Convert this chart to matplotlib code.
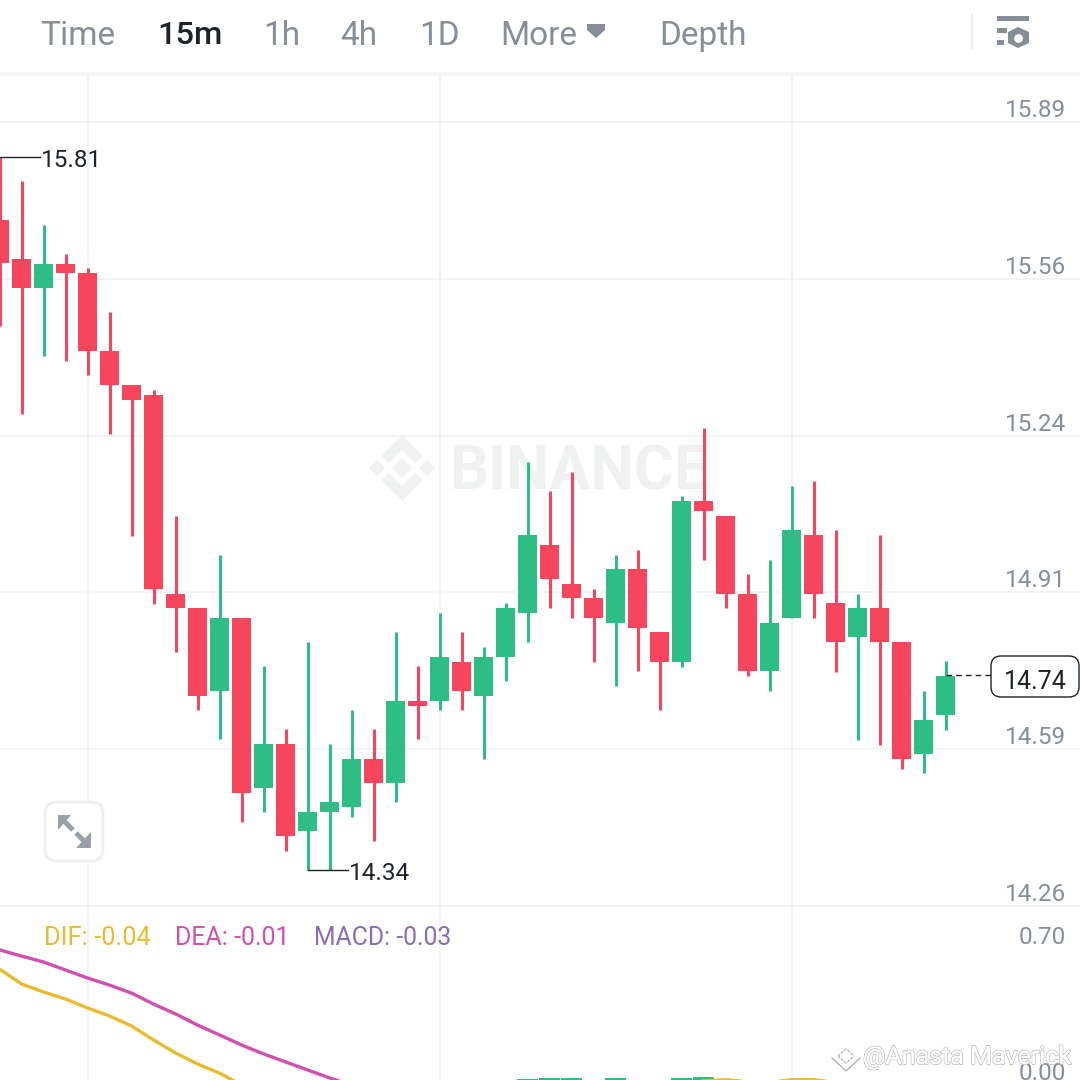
import matplotlib
matplotlib.use('Agg')
import matplotlib.pyplot as plt
import matplotlib.patheffects as pe
from matplotlib.patches import FancyBboxPatch, Polygon, Rectangle

plt.rcParams['font.family'] = ['Roboto', 'DejaVu Sans']

# Candles, one entry per 15m bar
opens = [15.686, 15.605, 15.545, 15.595, 15.576, 15.414, 15.343, 15.322, 14.909, 14.880, 14.707,
         14.859, 14.505, 14.597, 14.416, 14.456, 14.466, 14.566, 14.516, 14.686, 14.686, 14.767,
         14.697, 14.778, 14.869, 15.011, 14.930, 14.900, 14.848, 14.961, 14.830, 14.767, 15.102,
         15.071, 14.909, 14.749, 14.859, 15.031, 14.890, 14.819, 14.880, 14.809, 14.576, 14.657]
closes = [15.597, 15.545, 15.595, 15.576, 15.414, 15.343, 15.312, 14.919, 14.880, 14.697, 14.859,
          14.495, 14.597, 14.406, 14.456, 14.476, 14.566, 14.516, 14.686, 14.676, 14.778, 14.707,
          14.778, 14.880, 15.031, 14.940, 14.900, 14.859, 14.961, 14.838, 14.767, 15.102, 15.081,
          14.909, 14.749, 14.848, 15.042, 14.909, 14.809, 14.880, 14.809, 14.566, 14.647, 14.738]
highs = [15.817, 15.767, 15.676, 15.616, 15.586, 15.495, 15.343, 15.333, 15.071, 14.880, 14.990,
         14.859, 14.759, 14.628, 14.809, 14.597, 14.668, 14.628, 14.830, 14.759, 14.869, 14.830,
         14.799, 14.890, 15.183, 15.123, 15.162, 14.919, 14.990, 15.000, 14.830, 15.112, 15.254,
         15.071, 14.950, 14.979, 15.133, 15.144, 15.042, 14.909, 15.031, 14.809, 14.707, 14.769]
lows = [15.466, 15.283, 15.404, 15.393, 15.364, 15.241, 15.029, 14.888, 14.788, 14.668, 14.607,
        14.435, 14.456, 14.374, 14.335, 14.335, 14.445, 14.395, 14.476, 14.607, 14.668, 14.668,
        14.566, 14.728, 14.809, 14.880, 14.859, 14.767, 14.717, 14.749, 14.668, 14.757, 14.979,
        14.880, 14.738, 14.707, 14.859, 14.859, 14.747, 14.605, 14.595, 14.545, 14.537, 14.626]

# MACD panel, same bars
dif = [0.507, 0.442, 0.407, 0.376, 0.337, 0.302, 0.258, 0.197, 0.140, 0.092, 0.052, 0.000,
       -0.06, -0.11, -0.15, -0.17, -0.16, -0.13, -0.10, -0.08, -0.06, -0.05, -0.04, -0.02,
       -0.01, 0.01, 0.01, 0.005, 0.005, 0.01, 0.0, 0.0, 0.018, 0.023, 0.015, 0.012,
       0.023, 0.023, 0.012, 0.0, -0.01, -0.02, -0.035, -0.04]
dea = [0.591, 0.564, 0.538, 0.503, 0.468, 0.437, 0.402, 0.354, 0.311, 0.262, 0.219, 0.175,
       0.136, 0.101, 0.066, 0.031, 0.0, -0.03, -0.05, -0.06, -0.07, -0.07, -0.07, -0.06,
       -0.05, -0.04, -0.04, -0.03, -0.03, -0.03, -0.03, -0.02, -0.02, -0.02, -0.01, -0.01,
       -0.01, -0.01, -0.01, -0.01, -0.01, -0.01, -0.01, -0.01]
hist = [-0.08, -0.12, -0.13, -0.13, -0.13, -0.14, -0.14, -0.16, -0.17, -0.17, -0.17, -0.18,
        -0.2, -0.21, -0.22, -0.2, -0.16, -0.1, -0.05, -0.02, 0.01, 0.02, 0.015, 0.02,
        0.028, 0.03, 0.03, 0.024, 0.03, 0.023, 0.0, 0.03, 0.035, 0.02, 0.01, 0.01,
        0.02, 0.01, 0.0, -0.01, -0.01, -0.02, -0.03, -0.03]

price_ticks = [15.89, 15.56, 15.24, 14.91, 14.59, 14.26]
tick_pos = [15.89, 15.564, 15.238, 14.912, 14.586, 14.26]  # evenly spaced gridlines
time_ticks = [4, 20, 36]
macd_ticks = [0.70, 0.00]
tabs = ['Time', '15m', '1h', '4h', '1D', 'More', 'Depth']

GREEN = '#2ebd85'
RED = '#f6465d'
GRID = '#f1f2f4'
GREY = '#868e98'
DARK = '#1e2329'

fig = plt.figure(figsize=(10.8, 10.8), dpi=100, facecolor='white')


def pixel_axes(z):
    a = fig.add_axes([0, 0, 1, 1], zorder=z)
    a.set_xlim(0, 1080)
    a.set_ylim(1080, 0)
    a.axis('off')
    return a


bg = pixel_axes(0)
fg = pixel_axes(5)

# chart panels
ax = fig.add_axes([0, (1080 - 906) / 1080, 1, (906 - 76) / 1080], zorder=2)
ax.patch.set_alpha(0)
ax.set_xlim(0.02, 0.02 + 1080 / 22)
ax.set_ylim(14.26, 15.986)
ax2 = fig.add_axes([0, 0, 1, 174 / 1080], zorder=2)
ax2.patch.set_alpha(0)
ax2.set_xlim(0.02, 0.02 + 1080 / 22)
ax2.set_ylim(5 / 228.6, 179 / 228.6)
for a in (ax, ax2):
    a.axis('off')
    for t in time_ticks:
        a.axvline(t, color=GRID, lw=1.3, zorder=1)
for p in tick_pos:
    ax.axhline(p, color=GRID, lw=1.3, zorder=1, clip_on=False)

# candles
for i in range(len(opens)):
    up = closes[i] >= opens[i]
    c = GREEN if up else RED
    ax.plot([i, i], [lows[i], highs[i]], color=c, lw=2.2, solid_capstyle='butt', zorder=3)
    ax.bar(i, abs(closes[i] - opens[i]), bottom=min(opens[i], closes[i]), width=0.9, color=c, zorder=4)

# high / low markers
ax.plot([0, 1.86], [15.817, 15.817], color=DARK, lw=1, zorder=5)
ax.text(1.9, 15.81, '15.81', color=DARK, fontsize=17.5, va='center', zorder=6)
ax.plot([14, 15.86], [14.335, 14.335], color=DARK, lw=1, zorder=5)
ax.text(15.9, 14.328, '14.34', color=DARK, fontsize=17.5, va='center', zorder=6)

# last price
ax.plot([43, 45.05], [14.74, 14.74], color=DARK, lw=1, ls=(0, (4, 3)), zorder=5)
fg.add_patch(FancyBboxPatch((998, 663), 74, 27, boxstyle='round,pad=7,rounding_size=10', fc='white', ec=DARK, lw=1))
fg.text(1035, 682, '14.74', color=DARK, fontsize=18, ha='center', va='center')

# price labels sit above their gridline
for lab, p in zip(price_ticks, tick_pos):
    ax.annotate(f'{lab:.2f}', (1, p), xycoords=('axes fraction', 'data'), xytext=(-14, 0),
                textcoords='offset pixels', ha='right', va='bottom', color=GREY, fontsize=17.5, zorder=6)

# macd panel
ax2.bar(range(len(hist)), hist, width=0.92, color=[GREEN if h > 0 else RED for h in hist], zorder=2)
ax2.plot(range(len(dif)), dif, color='#e9bb30', lw=2.4, zorder=3)
ax2.plot(range(len(dea)), dea, color='#d14fb0', lw=2.4, zorder=3)
for v, y in zip(macd_ticks, [938, 1073]):
    fg.text(1066, y, f'{v:.2f}', color=GREY, fontsize=17.5, ha='right', va='center')
fg.text(44, 938, 'DIF: -0.04', color='#e9bb30', fontsize=18.4, va='center')
fg.text(175, 938, 'DEA: -0.01', color='#d14fb0', fontsize=18, va='center')
fg.text(314, 938, 'MACD: -0.03', color='#8a6db5', fontsize=17.8, va='center')

# header
bg.add_patch(Rectangle((0, 0), 1080, 72, fc='white', ec='none'))
bg.add_patch(Rectangle((0, 72), 1080, 4, fc='#f6f6f7', ec='none'))
for name, x in zip(tabs, [40, 157, 263, 340, 419, 500, 659]):
    sel = name == '15m'
    fg.text(x, 36, name, color=DARK if sel else GREY, fontsize=23.4 if sel else 24, va='center',
            fontweight='medium' if sel else 'normal')
fg.add_patch(Polygon([(587, 24), (605, 24), (605, 30), (596, 38), (587, 30)], fc=GREY, ec='none'))
fg.plot([972, 972], [15, 48], color='#ecedef', lw=1.5)
fg.add_patch(Rectangle((997, 16), 32, 5, fc=GREY, ec='none'))
fg.add_patch(Rectangle((997, 28), 10, 5, fc=GREY, ec='none'))
fg.add_patch(Rectangle((997, 40), 7, 5, fc=GREY, ec='none'))
fg.add_patch(Polygon([(1018, 27), (1029, 32), (1029, 43), (1018, 48), (1008, 43), (1008, 32)], fc=GREY, ec='none'))
fg.scatter([1018], [38], s=28, color='white', zorder=6)

# background watermark
WM = '#f0f1f1'
for cx, cy, r in [(402, 468, 10), (377, 468, 8), (427, 468, 8)]:
    bg.add_patch(Polygon([(cx, cy - r), (cx + r, cy), (cx, cy + r), (cx - r, cy)], fc=WM, ec='none'))
bg.add_patch(Polygon([(402, 435), (423, 456), (415, 463), (402, 450), (389, 463), (381, 456)], fc=WM, ec='none'))
bg.add_patch(Polygon([(402, 501), (423, 480), (415, 473), (402, 486), (389, 473), (381, 480)], fc=WM, ec='none'))
bg.text(449, 472, 'BINANCE', color=WM, fontsize=44, fontweight='bold', va='center')

# expand button
fg.add_patch(FancyBboxPatch((53, 810), 42, 43, boxstyle='round,pad=8,rounding_size=12', fc='white', ec='#eeeff1', lw=2))
fg.add_patch(Polygon([(58, 815), (71, 815), (58, 830)], fc='#9aa0a8', ec='none'))
fg.add_patch(Polygon([(91, 848), (91, 832), (76, 848)], fc='#9aa0a8', ec='none'))
fg.plot([63, 73], [820, 830], color='#9aa0a8', lw=3.6, solid_capstyle='butt')
fg.plot([86, 76], [843, 833], color='#9aa0a8', lw=3.6, solid_capstyle='butt')

# author watermark
fg.text(863, 1057, '@Anasta Maverick', color='white', fontsize=18, va='center',
        path_effects=[pe.withStroke(linewidth=1.2, foreground='#bdbdbd'), pe.Normal()])
fg.plot([832, 846, 860], [1058, 1071, 1058], color='#b5b5b5', lw=1)
fg.plot([838, 846, 854], [1056, 1063, 1056], color='#b5b5b5', lw=1, ls=(0, (2, 1)))
fg.plot([838, 846, 854], [1056, 1049, 1056], color='#b5b5b5', lw=1, ls=(0, (2, 1)))

fig.savefig('out.png', dpi=100)
